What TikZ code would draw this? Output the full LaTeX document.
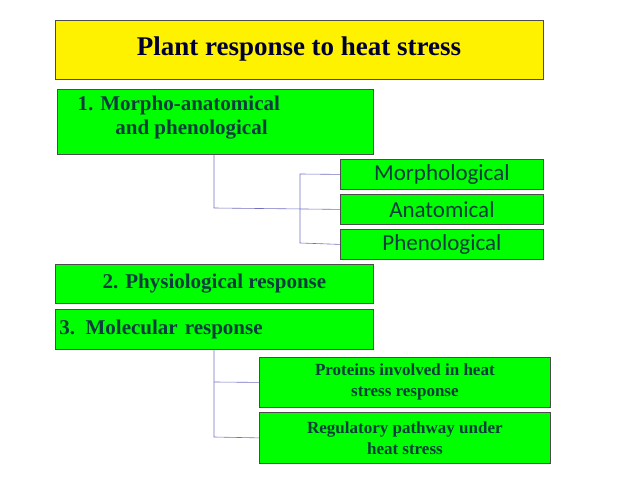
\documentclass[tikz,border=0pt]{standalone}
\usepackage{fontspec}
\setmainfont{Liberation Serif}
\newfontfamily\carl{Carlito}
\begin{document}
\begin{tikzpicture}[x=1pt,y=-1pt,
  bx/.style={draw=black!70,line width=0.8pt,fill=green!95!black!100,text=txt,inner sep=0pt},
  ln/.style={draw=blue!40!gray!80,line width=0.6pt}]
\definecolor{txt}{HTML}{0B3D3D}
\colorlet{gr}{green}
\useasboundingbox (0,0) rectangle (638,478);
\node[bx,fill=yellow,minimum width=488,minimum height=59,font=\bfseries\fontsize{27}{30}\selectfont,text=black!80!blue] (t) at (299,49.5) {Plant response to heat stress};
\node[bx,fill=gr,minimum width=316,minimum height=65,anchor=north west,font=\bfseries\fontsize{21}{24}\selectfont,align=left] (b1) at (57,89) {};
\node[text=txt,font=\bfseries\fontsize{21}{24}\selectfont,align=left,anchor=north west] at (74,92) {1. Morpho-anatomical\\\hspace{1.8em}and phenological};
\node[bx,fill=gr,minimum width=203,minimum height=30,anchor=north west,font=\carl\fontsize{23}{26}\selectfont] (m) at (340,159) {Morphological};
\node[bx,fill=gr,minimum width=203,minimum height=30,anchor=north west,font=\carl\fontsize{23}{26}\selectfont] (a) at (340,194) {Anatomical};
\node[bx,fill=gr,minimum width=203,minimum height=30,anchor=north west,font=\carl\fontsize{23}{26}\selectfont] (p) at (340,229) {Phenological};
\node[bx,fill=gr,minimum width=318,minimum height=39,anchor=north west,font=\bfseries\fontsize{21}{24}\selectfont] (b2) at (55,264) {2. Physiological response\hspace{0pt}};
\node[bx,fill=gr,minimum width=318,minimum height=40,anchor=north west,font=\bfseries\fontsize{21}{24}\selectfont,text width=310,align=left] (b3) at (55,309) {3. Molecular response};
\node[bx,fill=gr,minimum width=291,minimum height=50,anchor=north west,font=\bfseries\fontsize{17}{21}\selectfont,align=center] (pr) at (259,357) {Proteins involved in heat\\stress response};
\node[bx,fill=gr,minimum width=291,minimum height=51,anchor=north west,font=\bfseries\fontsize{17}{21}\selectfont,align=center] (rg) at (259,412) {Regulatory pathway under\\heat stress};
\coordinate (j1) at (214,208);
\coordinate (j2) at (300,174);
\coordinate (j3) at (300,243);
\coordinate (j4) at (214,382);
\coordinate (j5) at (214,437);
\draw[ln] (b1.south -| j1) -- (j1) -- (a.west);
\draw[ln] (m.west) -- (j2) -- (j3) -- (p.west);
\draw[ln] (b3.south -| j4) -- (j5) -- (rg.west);
\draw[ln] (j4) -- (pr.west);
\end{tikzpicture}
\end{document}
